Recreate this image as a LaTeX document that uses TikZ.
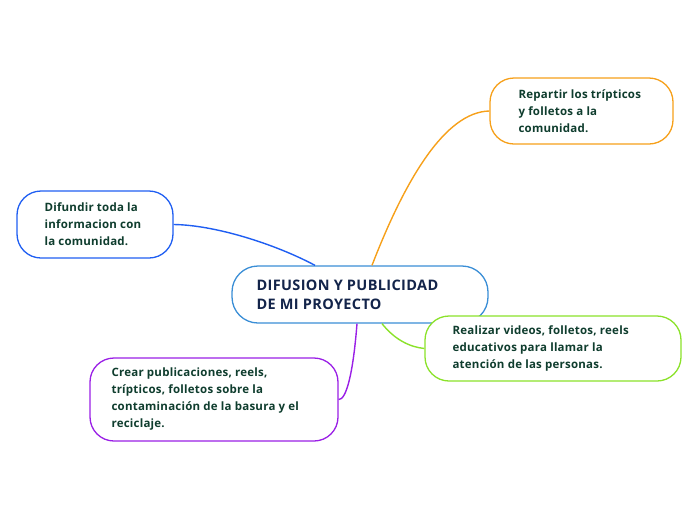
\documentclass[tikz,border=0pt]{standalone}
\usepackage{fontspec}
\setmainfont{Open Sans}
\definecolor{cborde}{HTML}{3A8ED6}
\definecolor{cnaranja}{HTML}{F6A01A}
\definecolor{cazul}{HTML}{1F5EF2}
\definecolor{cverde}{HTML}{8BE22A}
\definecolor{cmorado}{HTML}{9A1FE6}
\definecolor{ctexto}{HTML}{0F3D2E}
\definecolor{ctitulo}{HTML}{13244A}
\tikzset{
  caja/.style={draw, line width=1.3pt, fill=white, rounded corners=24pt},
  texto/.style={anchor=west, align=left, inner sep=0pt, text=ctexto,
    font=\bfseries\fontsize{11.5}{17}\selectfont\addfontfeature{LetterSpace=2}},
  rama/.style={line width=1.4pt}
}
\begin{document}
\begin{tikzpicture}[x=1pt,y=-1pt]

\useasboundingbox (0,0) rectangle (696,520);

\node[caja, draw=cborde, rounded corners=26pt, minimum width=256pt, minimum height=57pt] (centro) at (360,294.5) {};
\node[texto, text=ctitulo, font=\bfseries\fontsize{14.5}{19}\selectfont\addfontfeature{LetterSpace=2.5}] (tcentro) at ([xshift=25pt]centro.west) {DIFUSION Y PUBLICIDAD\\DE MI PROYECTO};

\node[caja, draw=cnaranja, minimum width=183pt, minimum height=66pt] (repartir) at (581.5,111) {};
\node[texto] (trepartir) at ([xshift=29pt]repartir.west) {Repartir los trípticos\\y folletos a la\\comunidad.};

\node[caja, draw=cazul, minimum width=156pt, minimum height=67pt] (difundir) at (95,224.5) {};
\node[texto] (tdifundir) at ([xshift=28pt]difundir.west) {Difundir toda la\\informacion con\\la comunidad.};

\node[caja, draw=cverde, minimum width=256pt, minimum height=65pt] (realizar) at (553,348.5) {};
\node[texto] (trealizar) at ([xshift=28pt]realizar.west) {Realizar videos, folletos, reels\\educativos para llamar la\\atención de las personas.};

\node[caja, draw=cmorado, minimum width=248pt, minimum height=83pt] (crear) at (214,399.5) {};
\node[texto] (tcrear) at ([xshift=22pt]crear.west) {Crear publicaciones, reels,\\trípticos, folletos sobre la\\contaminación de la basura y el\\reciclaje.};

\draw[rama, cnaranja] ([xshift=12pt]centro.north) .. controls (405,180) and (445,112) .. (repartir.west);
\draw[rama, cazul] (difundir.east) .. controls (215,225) and (275,244) .. ([xshift=-45pt]centro.north);
\draw[rama, cmorado] ([xshift=-3pt]centro.south) .. controls (353,375) and (346,400) .. (crear.east);
\draw[rama, cverde] ([xshift=22pt]centro.south) .. controls (395,340) and (410,347) .. (realizar.west);

\end{tikzpicture}
\end{document}
